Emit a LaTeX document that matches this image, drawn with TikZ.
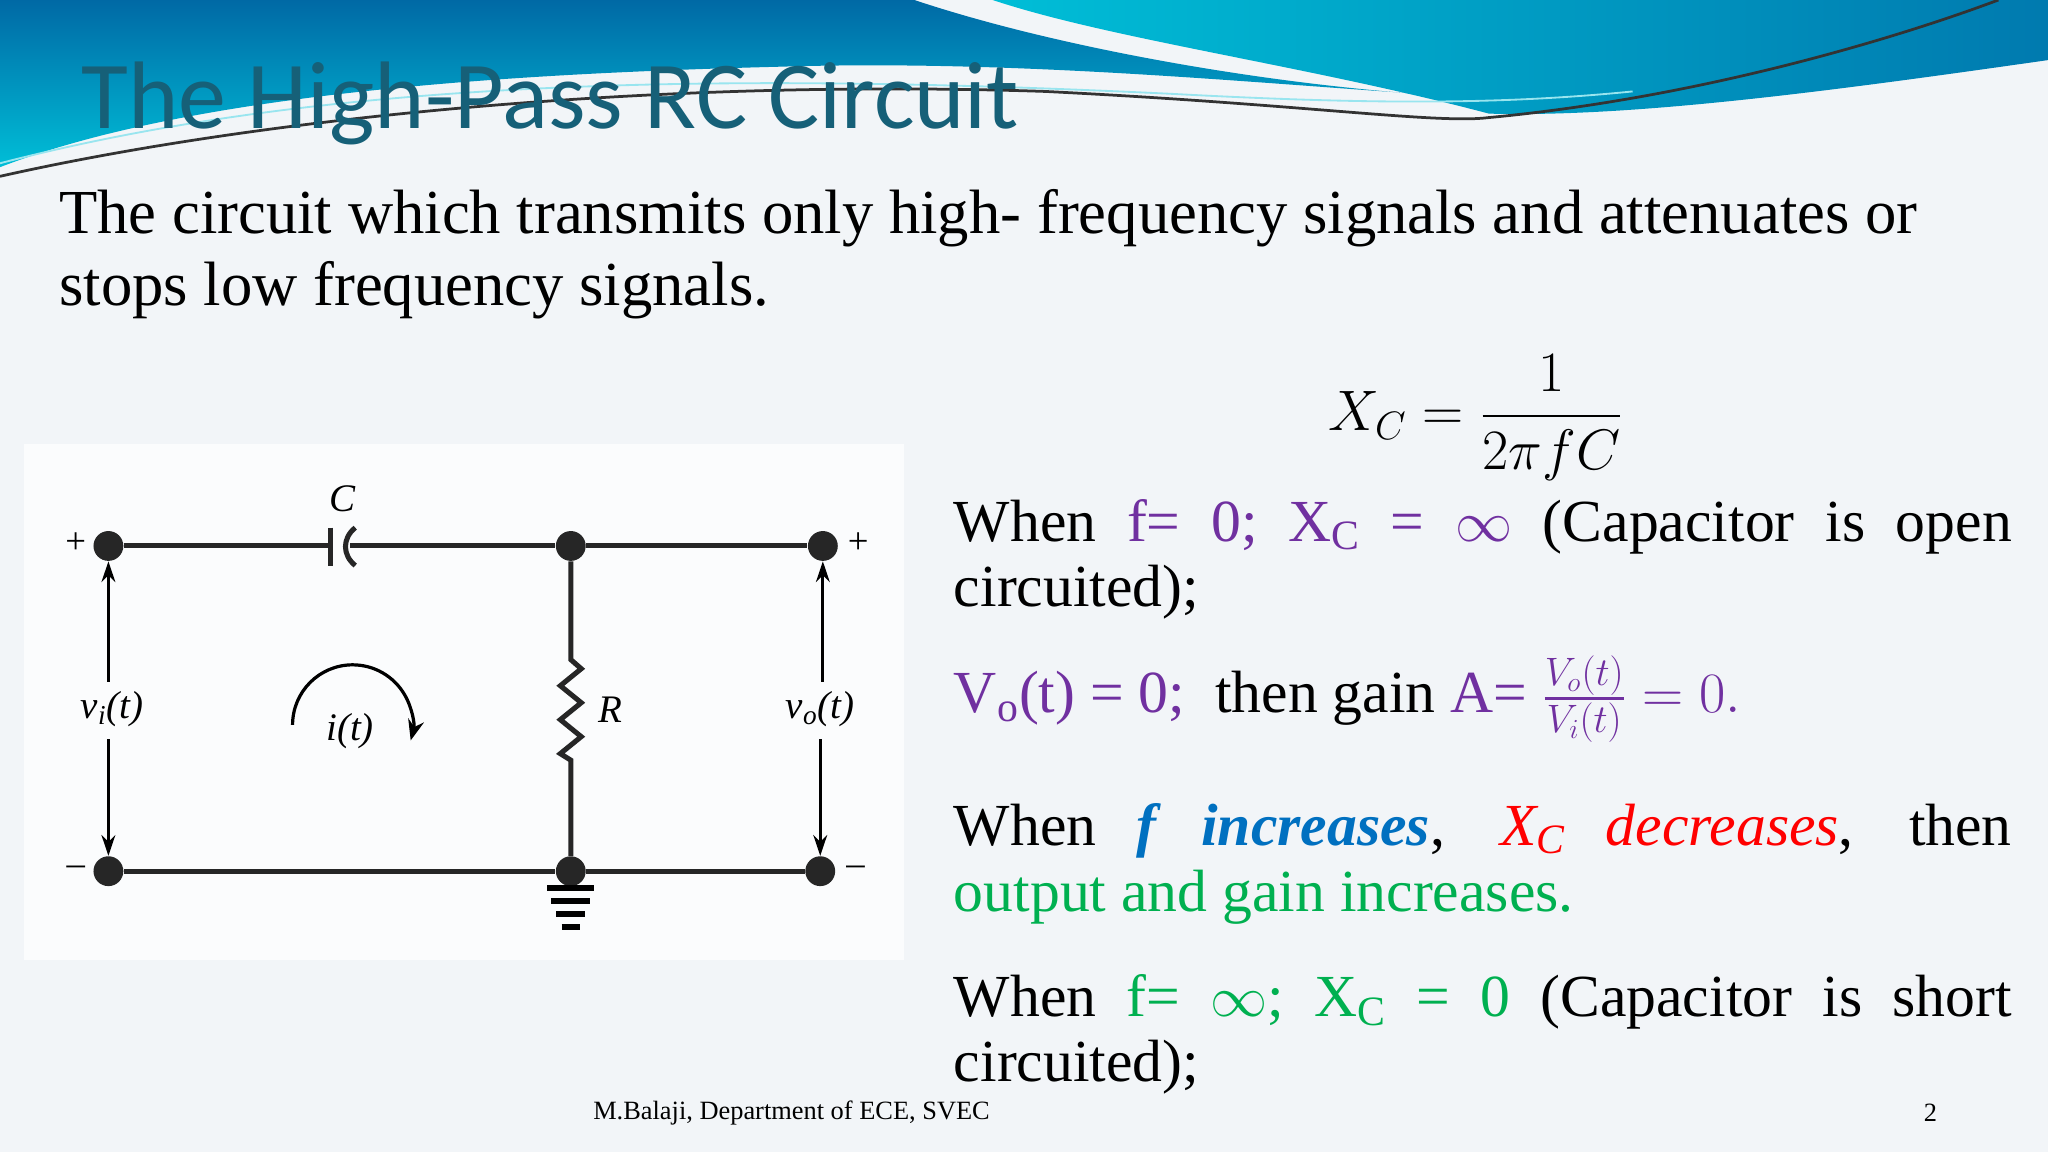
\documentclass[tikz,border=0pt]{standalone}
\usepackage{amsmath}
\usepackage{fontspec}
\setmainfont{Liberation Serif}
\newfontfamily\titlefont{Carlito}
\usetikzlibrary{arrows.meta}
\definecolor{pagebg}{RGB}{242,245,248}
\definecolor{titlec}{RGB}{22,96,120}
\definecolor{purp}{RGB}{112,48,160}
\definecolor{grn}{RGB}{0,176,80}
\definecolor{blu}{RGB}{0,112,192}
\definecolor{bannerA}{RGB}{0,105,165}
\definecolor{bannerB}{RGB}{0,190,215}
\newcommand{\jline}[1]{\makebox[461pt][s]{#1}}
\tikzset{
  wire/.style={line width=2.2pt,black!85},
  dot/.style={circle,fill=black!85,inner sep=0pt,minimum size=13pt},
  body/.style={font=\fontsize{26}{31}\selectfont,inner sep=0pt,anchor=west},
  ckt/.style={font=\fontsize{17}{20}\selectfont\itshape,inner sep=0pt},
  varrow/.style={line width=1.4pt,-{Stealth[length=9pt,width=6pt]}}
}
\begin{document}
\begin{tikzpicture}[x=0.02cm,y=-0.02cm]
\useasboundingbox (0,0) rectangle (1568,882);
\fill[pagebg] (0,0) rectangle (1568,882);
% banner
\shade[top color=bannerA,bottom color=bannerB]
  (0,0) -- (700,0) .. controls (820,40) and (1000,70) .. (1140,75)
  .. controls (1000,68) and (800,45) .. (600,51)
  .. controls (400,56) and (150,70) .. (0,128) -- cycle;
\shade[left color=bannerB,right color=bannerA!80!bannerB]
  (760,0) -- (1568,0) -- (1568,46) .. controls (1400,70) and (1250,90) .. (1140,87)
  .. controls (1000,50) and (850,30) .. (760,0) -- cycle;
\draw[line width=1.2pt,black!80] (0,135) .. controls (200,90) and (500,60) .. (800,70)
  .. controls (1000,80) and (1100,95) .. (1140,90) .. controls (1300,75) and (1450,30) .. (1530,0);
\draw[line width=0.8pt,white!60!bannerB] (0,125) .. controls (250,60) and (550,55) .. (900,72) .. controls (1050,80) and (1150,80) .. (1250,70);
\node[font=\titlefont\fontsize{41.8}{48}\selectfont,text=titlec,anchor=base west,inner sep=0pt] (title) at (62,98) {The High-Pass RC Circuit};
% paragraph
\node[body,font=\fontsize{27.3}{31}\selectfont] (p1) at (45,167) {The circuit which transmits only high- frequency signals and attenuates or};
\node[body,font=\fontsize{27.3}{31}\selectfont] (p2) at (45,222) {stops low frequency signals.};
% formula
\node[font=\fontsize{26}{31}\selectfont,inner sep=0pt] (xc) at (1130,320) {$X_C=\dfrac{1}{2\pi f C}$};
% right column
\node[body] (w1) at (730,403) {\jline{When\hfill\textcolor{purp}{f=}\hfill\textcolor{purp}{0;}\hfill\textcolor{purp}{X\textsubscript{C}}\hfill\textcolor{purp}{=}\hfill\textcolor{purp}{$\infty$}\hfill(Capacitor\hfill is\hfill open}};
\node[body] (w2) at (730,453) {circuited);};
\node[body] (v1) at (730,535) {\textcolor{purp}{V\textsubscript{o}(t) = 0;}\ \ then gain \textcolor{purp}{A= $\frac{V_o(t)}{V_i(t)}=0.$}};
\node[body] (g1) at (730,636) {\jline{When\hfill\textcolor{blu}{\bfseries\itshape f\ \ \ increases}, \hfill\textcolor{red}{\itshape X\textsubscript{C}}\hfill\textcolor{red}{\itshape decreases}, \hfill then}};
\node[body] (g2) at (730,687) {\textcolor{grn}{output and gain increases.}};
\node[body] (s1) at (730,767) {\jline{When\hfill\textcolor{grn}{f=}\hfill\textcolor{grn}{$\infty$;}\hfill\textcolor{grn}{X\textsubscript{C}}\hfill\textcolor{grn}{=}\hfill\textcolor{grn}{0}\hfill(Capacitor\hfill is\hfill short}};
\node[body] (s2) at (730,817) {circuited);};
\node[font=\fontsize{11.5}{13}\selectfont,inner sep=0pt] (foot) at (606,852) {M.Balaji, Department of ECE, SVEC};
\node[font=\fontsize{11.5}{13}\selectfont,inner sep=0pt] (pg) at (1478,852) {2};
% circuit
\fill[white!70!pagebg] (18,340) rectangle (692,735);
\node[dot] (TL) at (83,418) {};
\node[dot] (TM) at (437,418) {};
\node[dot] (TR) at (630,418) {};
\node[dot] (BL) at (83,667) {};
\node[dot] (BM) at (437,667) {};
\node[dot] (BR) at (628,667) {};
\coordinate (c1) at (253,418);
\coordinate (c2) at (268,418);
\coordinate (r1) at (437,505);
\coordinate (r2) at (437,582);
\draw[wire] (TL) -- (c1);
\draw[wire] (c2) -- (TM) -- (TR);
\draw[wire] (253,404) -- (253,433);
\draw[wire] (272,404) .. controls (262,412) and (262,425) .. (272,433);
\draw[wire] (TM) -- (r1) -- (445,512) -- (429,525) -- (445,538) -- (429,551) -- (445,564) -- (429,577) -- (r2) -- (BM);
\draw[wire] (BL) -- (BM) -- (BR);
\draw[line width=2pt] (BM) -- (437,680);
\foreach \y/\w in {680/18,690/15,700/11,710/7}
  \draw[line width=2.6pt] (437-\w,\y) -- (437+\w,\y);
\node[ckt] (vi) at (86,543) {v\textsubscript{\itshape i}(t)};
\node[ckt] (vo) at (628,543) {v\textsubscript{\itshape o}(t)};
\coordinate (via) at (83,522);
\coordinate (vib) at (83,566);
\coordinate (voa) at (630,522);
\coordinate (vob) at (628,566);
\draw[varrow] (via) -- (TL);
\draw[varrow] (vib) -- (BL);
\draw[varrow] (voa) -- (TR);
\draw[varrow] (vob) -- (BR);
\node[ckt] (Cl) at (262,382) {C};
\node[ckt] (Rl) at (467,543) {R};
\node[ckt] (it) at (268,560) {i(t)};
\draw[line width=1.4pt,-{Stealth[length=9pt,width=7pt]}] (224,555) arc[start angle=180,end angle=375,radius=46];
\node[font=\fontsize{16}{18}\selectfont,inner sep=0pt] (pl) at (58,416) {+};
\node[font=\fontsize{16}{18}\selectfont,inner sep=0pt] (ml) at (58,667) {--};
\node[font=\fontsize{16}{18}\selectfont,inner sep=0pt] (pr) at (657,416) {+};
\node[font=\fontsize{16}{18}\selectfont,inner sep=0pt] (mr) at (655,667) {--};
\end{tikzpicture}
\end{document}
